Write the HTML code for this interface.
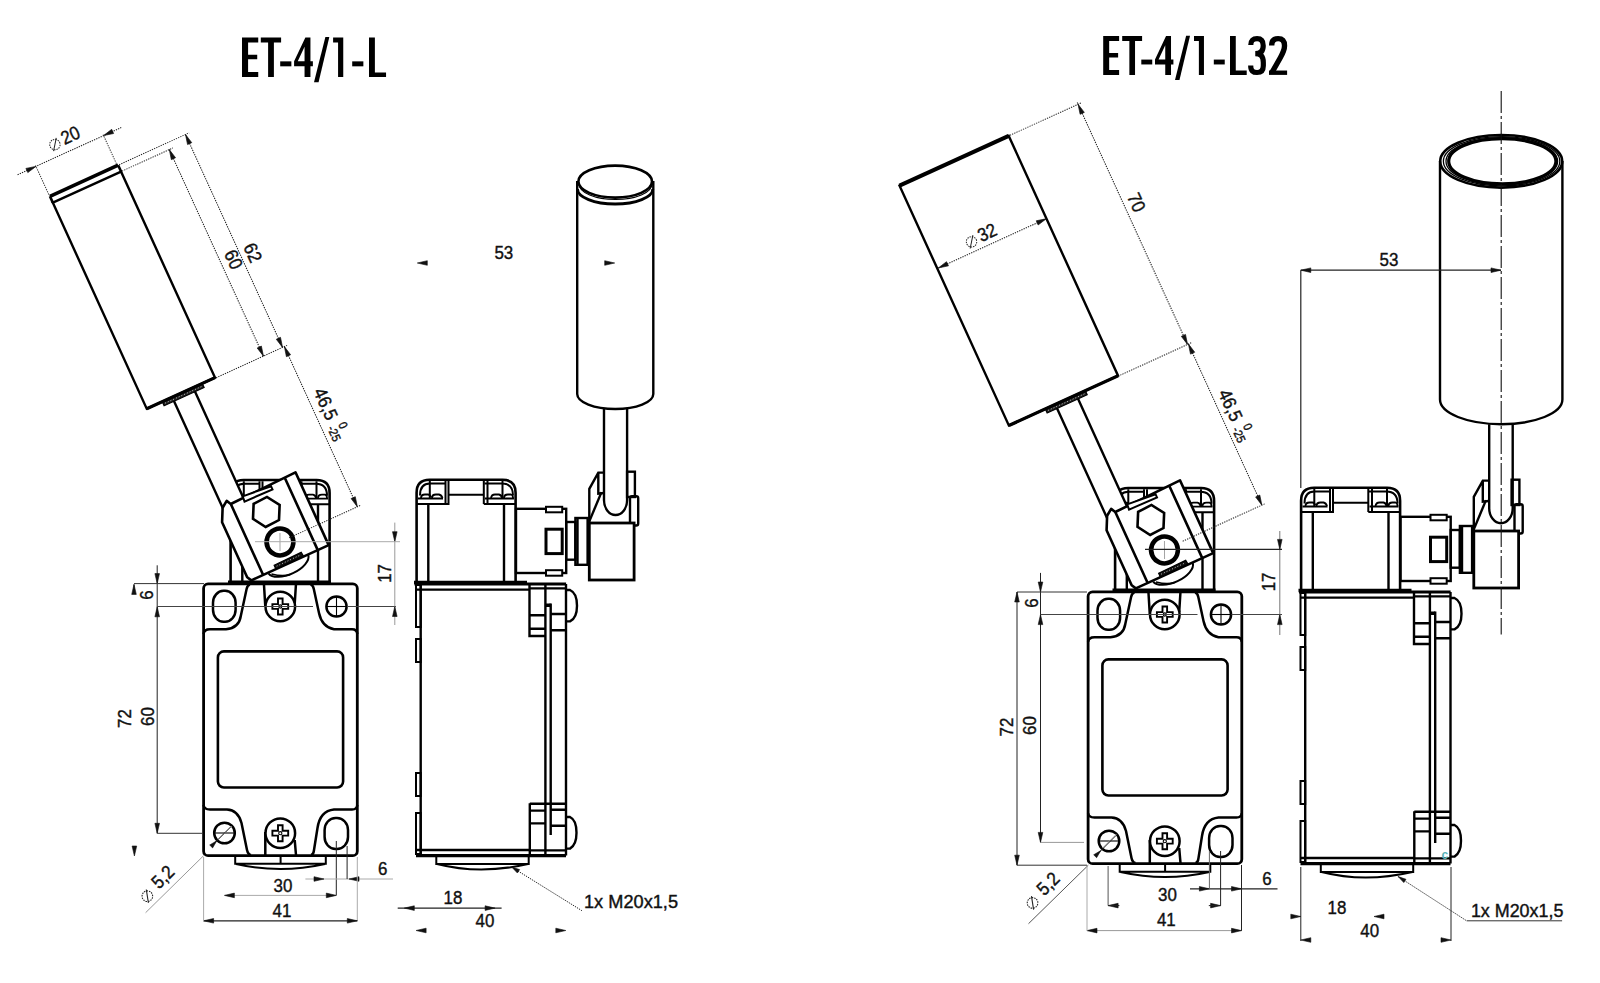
<!DOCTYPE html>
<html><head><meta charset="utf-8"><style>
html,body{margin:0;padding:0;background:#fff;width:1600px;height:983px;overflow:hidden}
svg{display:block}
text{font-family:"Liberation Sans",sans-serif}
</style></head><body>
<svg width="1600" height="983" viewBox="0 0 1600 983" font-family="Liberation Sans, sans-serif">
<rect width="1600" height="983" fill="#fff"/>
<g transform="translate(242.0 37.4) scale(1.015)" fill="#000"><path d="M0 0H16V5H6V17H15V21.5H6V34H16V39H0Z"/></g>
<g transform="translate(260.8 37.4) scale(1.015)" fill="#000"><path d="M0 0H20V5H12.9V39H7.2V5H0Z"/></g>
<g transform="translate(280.2 37.4) scale(1.015)" fill="#000"><path d="M0 23.6H11V28.5H0Z"/></g>
<g transform="translate(294.1 37.4) scale(1.015)" fill="#000"><path fill-rule="evenodd" d="M11.1 0H16.1V23.6H18.5V28.5H16.1V39H10.3V28.5H0V23.6ZM10.3 9.1L3.6 23.6H10.3Z"/></g>
<g transform="translate(314.0 37.4) scale(1.015)" fill="#000"><path d="M11.2 -0.3H15.1L4.5 44.2H0Z"/></g>
<g transform="translate(333.1 37.4) scale(1.015)" fill="#000"><path d="M0 0H10V39H4.9V5H0Z"/></g>
<g transform="translate(352.2 37.4) scale(1.015)" fill="#000"><path d="M0 23.6H11V28.5H0Z"/></g>
<g transform="translate(369.0 37.4) scale(1.015)" fill="#000"><path d="M0 0H5.8V34.6H16.8V39H0Z"/></g>
<g transform="translate(1103.2 36.1) scale(0.995)" fill="#000"><path d="M0 0H16V5H6V17H15V21.5H6V34H16V39H0Z"/></g>
<g transform="translate(1122.2 36.1) scale(0.995)" fill="#000"><path d="M0 0H20V5H12.9V39H7.2V5H0Z"/></g>
<g transform="translate(1141.3 36.1) scale(0.995)" fill="#000"><path d="M0 23.6H11V28.5H0Z"/></g>
<g transform="translate(1155.0 36.1) scale(0.995)" fill="#000"><path fill-rule="evenodd" d="M11.1 0H16.1V23.6H18.5V28.5H16.1V39H10.3V28.5H0V23.6ZM10.3 9.1L3.6 23.6H10.3Z"/></g>
<g transform="translate(1175.0 36.1) scale(0.995)" fill="#000"><path d="M11.2 -0.3H15.1L4.5 44.2H0Z"/></g>
<g transform="translate(1194.0 36.1) scale(0.995)" fill="#000"><path d="M0 0H10V39H4.9V5H0Z"/></g>
<g transform="translate(1213.8 36.1) scale(0.995)" fill="#000"><path d="M0 23.6H11V28.5H0Z"/></g>
<g transform="translate(1230.0 36.1) scale(0.995)" fill="#000"><path d="M0 0H5.8V34.6H16.8V39H0Z"/></g>
<g transform="translate(1248.1 36.1) scale(0.995)" fill="#000"><path d="M2.7 9C2.7 4.2 5 2.6 9 2.6S15.2 4.6 15.2 9.6C15.2 14.8 12.5 17.6 7.2 17.6M7.2 17.6C12.8 17.6 15.3 20.4 15.3 26.5V29.8C15.3 34.8 13 36.6 9 36.6S2.6 35 2.6 29.5" fill="none" stroke="#000" stroke-width="5.2"/></g>
<g transform="translate(1269.0 36.1) scale(0.995)" fill="#000"><path d="M2.7 9.5C2.7 4.5 5 2.6 9.2 2.6S15.6 4.8 15.6 9.8C15.6 14 14.2 16.8 11.5 21.5L3 36.5" fill="none" stroke="#000" stroke-width="5.4"/><path d="M0 34.6H18.2V39H0Z"/></g>
<g id="L">
<g transform="translate(-186 0.2)"><path d="M416.6 583 L416.6 492.8 Q416.6 479.8 429.6 479.8 L502.6 479.8 Q515.6 479.8 515.6 492.8 L515.6 583" fill="#fff" stroke="#000" stroke-width="2.6"/>
<path d="M420 495.5 Q420 483.5 430 483.5 L445.5 483.5 M484.5 483.5 L501.8 483.5 Q513 483.5 513 495.5" fill="none" stroke="#000" stroke-width="2"/>
<path d="M416.6 504.1 L448.5 504.1 L448.5 481 M445.5 481 L445.5 504 M429.8 481 L429.8 498 M483.8 504.1 L515.6 504.1 M483.8 481 L483.8 504.1 M487.5 481 L487.5 504 M502.5 481 L502.5 498 M448.5 494.8 L483.8 494.8" fill="none" stroke="#000" stroke-width="2"/>
<path d="M418 498.5 L443 498.5 M485 498.5 L514 498.5" stroke="#000" stroke-width="1.8"/>
<path d="M421 498 Q421 494.5 425 494.5 L428 494.5 Q430 494.5 430.5 497 M432 498 Q432 494.5 436 494.5 L439 494.5 Q441.5 495 442.5 498 M491 498 Q491.5 494.5 495 494.5 L499 494.5 Q501.5 495 502 498 M504 498 Q504 494.5 508 494.5 L511 494.5 Q513 495 513 498" fill="none" stroke="#000" stroke-width="1.8"/>
<path d="M428.3 504 L428.3 583 M504 504 L504 583" fill="none" stroke="#000" stroke-width="2.4"/></g>
<line x1="228.0" y1="582.3" x2="331.0" y2="582.3" stroke="#000" stroke-width="3.60" />
<rect x="203.6" y="583.8" width="153.7" height="271.9" rx="4.5" fill="#fff" stroke="#000" stroke-width="2.8"/>
<path d="M203.6 634 Q204 629.3 210 629.3 L226 629.3 Q239 628 240.8 616 L246.6 589 Q247.5 585 250 584.5 M264 585 L265.3 606.5 M295.9 585 L294.7 604 M310.5 584.5 Q313 585 313.8 589 L319 613 Q322 627 334 629.3 L352 629.3 Q357 629.3 357.3 634" fill="none" stroke="#000" stroke-width="2.5" stroke-linejoin="round"/>
<path d="M203.6 805 Q204 809.5 210 809.5 L227 809.5 Q238 810 241.5 823 L247 850 Q248 854.5 251 855 M265.3 855 L265.3 832 M296 855 L294.7 840 M311 855 Q313.5 854.5 314 850 L317.5 828 Q320 811 334 809.5 L352 809.5 Q357 809.5 357.3 805" fill="none" stroke="#000" stroke-width="2.5" stroke-linejoin="round"/>
<circle cx="280.3" cy="606.5" r="14.8" fill="#fff" stroke="#000" stroke-width="2.5"/>
<circle cx="280.3" cy="833.2" r="14.8" fill="#fff" stroke="#000" stroke-width="2.5"/>
<rect x="217.9" y="651.4" width="125.2" height="136.1" rx="6" fill="none" stroke="#000" stroke-width="2.6"/>
<rect x="213" y="590.8" width="22.6" height="31" rx="10.5" ry="12" fill="none" stroke="#000" stroke-width="2.5" stroke-linejoin="round"/>
<circle cx="336.5" cy="606.5" r="10.1" fill="none" stroke="#000" stroke-width="2.5" stroke-linejoin="round"/>
<line x1="326.5" y1="606.5" x2="346.5" y2="606.5" stroke="#000" stroke-width="1.10" />
<line x1="336.5" y1="596.4" x2="336.5" y2="616.6" stroke="#000" stroke-width="1.10" />
<circle cx="224.5" cy="833" r="10.3" fill="none" stroke="#000" stroke-width="2.5" stroke-linejoin="round"/>
<line x1="214.5" y1="833.0" x2="234.5" y2="833.0" stroke="#000" stroke-width="1.10" />
<line x1="218.0" y1="840.0" x2="232.0" y2="826.0" stroke="#aaa" stroke-width="0.80" />
<rect x="324.6" y="818" width="23.4" height="31" rx="11" ry="12" fill="none" stroke="#000" stroke-width="2.5" stroke-linejoin="round"/>
<path d="M278.0 598.5 h4.6 v5.6 h5.6 v4.8 h-5.6 v5.6 h-4.6 v-5.6 h-5.6 v-4.8 h5.6 Z" fill="none" stroke="#000" stroke-width="1.9"/>
<circle cx="280.3" cy="606.5" r="1.6" fill="none" stroke="#000" stroke-width="1.1"/>
<path d="M278.0 825.2 h4.6 v5.6 h5.6 v4.8 h-5.6 v5.6 h-4.6 v-5.6 h-5.6 v-4.8 h5.6 Z" fill="none" stroke="#000" stroke-width="1.9"/>
<circle cx="280.3" cy="833.2" r="1.6" fill="none" stroke="#000" stroke-width="1.1"/>
<path d="M235.2 856 L235.2 863.8 L325.8 863.8 L325.8 856 M236 864 Q280.6 874 325 864 M280.6 856 L280.6 863.8" fill="none" stroke="#000" stroke-width="2"/>
<g transform="translate(280 542) rotate(-24.5)">
<path d="M-38.0 -176.5 L-38.0 -52 L-15.0 -56 L-15.0 -176.5 Z" fill="#fff" stroke="none"/>
<path d="M-38.0 -176.5 L-38.0 -53 M-15.0 -176.5 L-15.0 -56" stroke="#000" stroke-width="2.4"/>
<rect x="-66.0" y="-403.0" width="75.0" height="226.5" fill="#fff" stroke="#000" stroke-width="2.4"/>
<rect x="-49.0" y="-176.0" width="44.0" height="4" fill="#222" stroke="#000" stroke-width="1.2"/>
<line x1="-47.0" y1="-174.0" x2="-7.0" y2="-174.0" stroke="#fff" stroke-width="0.8" stroke-dasharray="0.8 2.2"/>
<path d="M-66.0 -176.5 L9.0 -176.5" stroke="#000" stroke-width="3.2"/>
<path d="M-66.0 -410.0 L9.0 -410.0" stroke="#000" stroke-width="3.6"/>
<path d="M-66.0 -410.0 L-66.0 -403.0" stroke="#000" stroke-width="2.6"/>
<path d="M9.0 -410.0 L9.0 -403.0" stroke="#000" stroke-width="2.6"/>
<path d="M20.4 23.5 A22 11 0 0 1 -23.4 24" fill="none" stroke="#000" stroke-width="2"/>
<path d="M-21 25.5 Q-12 33 -4.4 33.6" fill="none" stroke="#000" stroke-width="1.6"/>
<path d="M43 -57 L43 23 L-42 23 L-44.5 18.5 L-44.5 -42 L-38 -55 L-31.5 -59.5 L-29 -55 Z" fill="#fff" stroke="#000" stroke-width="2.6" stroke-linejoin="round"/>
<path d="M-29 -55 L-29 22.5 M31 -56 L31 22.5" stroke="#000" stroke-width="2.6"/>
<polygon points="15.0,-33.8 8.2,-20.4 -6.8,-19.6 -15.0,-32.2 -8.2,-45.6 6.8,-46.4" fill="none" stroke="#000" stroke-width="2.6"/>
<circle cx="0" cy="0" r="13.4" fill="none" stroke="#000" stroke-width="4.6"/>
<path d="M-15 18.8 L15 18.2 L15.5 22.5 L-15 22.8 Z" fill="#111" stroke="#000" stroke-width="1.2"/>
<line x1="-13" y1="20.6" x2="13" y2="20.3" stroke="#fff" stroke-width="0.8" stroke-dasharray="0.8 2.2"/>
<line x1="3.7" y1="-8.2" x2="-3.7" y2="8.2" stroke="#999" stroke-width="0.8"/>
<path d="M-15 -57 L15 -54.5 L15 -51 L-15.5 -51.5 Z" fill="#fff" stroke="#000" stroke-width="2"/>
</g>
<path d="M416.6 583 L416.6 492.8 Q416.6 479.8 429.6 479.8 L502.6 479.8 Q515.6 479.8 515.6 492.8 L515.6 583" fill="#fff" stroke="#000" stroke-width="2.6"/>
<path d="M420 495.5 Q420 483.5 430 483.5 L445.5 483.5 M484.5 483.5 L501.8 483.5 Q513 483.5 513 495.5" fill="none" stroke="#000" stroke-width="2"/>
<path d="M416.6 504.1 L448.5 504.1 L448.5 481 M445.5 481 L445.5 504 M429.8 481 L429.8 498 M483.8 504.1 L515.6 504.1 M483.8 481 L483.8 504.1 M487.5 481 L487.5 504 M502.5 481 L502.5 498 M448.5 494.8 L483.8 494.8" fill="none" stroke="#000" stroke-width="2"/>
<path d="M418 498.5 L443 498.5 M485 498.5 L514 498.5" stroke="#000" stroke-width="1.8"/>
<path d="M421 498 Q421 494.5 425 494.5 L428 494.5 Q430 494.5 430.5 497 M432 498 Q432 494.5 436 494.5 L439 494.5 Q441.5 495 442.5 498 M491 498 Q491.5 494.5 495 494.5 L499 494.5 Q501.5 495 502 498 M504 498 Q504 494.5 508 494.5 L511 494.5 Q513 495 513 498" fill="none" stroke="#000" stroke-width="1.8"/>
<path d="M428.3 504 L428.3 583 M504 504 L504 583" fill="none" stroke="#000" stroke-width="2.4"/>
<line x1="414.0" y1="582.5" x2="527.0" y2="582.5" stroke="#000" stroke-width="3.60" />
<rect x="516" y="508.8" width="50.2" height="64.2" fill="none" stroke="#000" stroke-width="2.4"/>
<rect x="546" y="506.8" width="16.2" height="5.5" fill="#fff" stroke="#000" stroke-width="2"/>
<rect x="546" y="570.2" width="16.2" height="5.5" fill="#fff" stroke="#000" stroke-width="2"/>
<rect x="546" y="529.2" width="16.2" height="24.4" fill="none" stroke="#000" stroke-width="3"/>
<rect x="566.2" y="522" width="9.2" height="37.7" fill="none" stroke="#000" stroke-width="2.4"/>
<rect x="575.4" y="518" width="12.2" height="46.8" fill="none" stroke="#000" stroke-width="2.4"/>
<line x1="577.5" y1="519.0" x2="577.5" y2="564.0" stroke="#000" stroke-width="2.40" />
<rect x="627.1" y="471.7" width="7.8" height="25.3" fill="none" stroke="#000" stroke-width="2.4"/>
<rect x="630" y="496.2" width="8.2" height="29.3" rx="2" fill="none" stroke="#000" stroke-width="2.4"/>
<path d="M589.3 522 L589.3 488.8 L598.3 472.6 L604 472.6 M598.3 472.6 L598.3 493.7 L604 493" fill="none" stroke="#000" stroke-width="2.4"/>
<path d="M589.3 521.4 L601.5 492.1" fill="none" stroke="#000" stroke-width="2.4"/>
<rect x="589.3" y="523" width="44.8" height="57" fill="#fff" stroke="#000" stroke-width="2.8"/>
<path d="M420.7 584 L420.7 855.5" fill="none" stroke="#000" stroke-width="2.4"/>
<line x1="414.5" y1="584.0" x2="566.1" y2="584.0" stroke="#000" stroke-width="2.80" />
<line x1="416.0" y1="589.6" x2="529.5" y2="589.6" stroke="#000" stroke-width="2.40" />
<rect x="416" y="585.0" width="4.7" height="42.0" fill="none" stroke="#000" stroke-width="2"/>
<rect x="416" y="639.0" width="4.7" height="23.0" fill="none" stroke="#000" stroke-width="2"/>
<rect x="416" y="773.0" width="4.7" height="23.0" fill="none" stroke="#000" stroke-width="2"/>
<rect x="416" y="813.0" width="4.7" height="41.0" fill="none" stroke="#000" stroke-width="2"/>
<path d="M529.5 584 L529.5 636 L545.4 636 M529.5 588.4 L566 588.4 M529.5 615.3 L545.4 615.3 M529.5 628.7 L545.4 628.7 M550.7 614 L566 614 M550.7 630.3 L566 630.3" fill="none" stroke="#000" stroke-width="2.4"/>
<path d="M545.4 584 L545.4 855.5 M550.7 603.5 L550.7 835 M566 584 L566 855.5" fill="none" stroke="#000" stroke-width="2.4"/>
<rect x="545.4" y="603.5" width="5.3" height="3.5" fill="#000"/>
<path d="M529.8 803.3 L529.8 855.5 M529.8 803.7 L566 803.7 M529.8 810.6 L545.3 810.6 M529.8 823.4 L545.3 823.4 M550.8 809.7 L566 809.7 M550.8 825.7 L566 825.7 M529.8 850.4 L566 850.4" fill="none" stroke="#000" stroke-width="2.4"/>
<line x1="416.0" y1="850.0" x2="529.8" y2="850.0" stroke="#000" stroke-width="2.40" />
<line x1="416.0" y1="855.6" x2="566.0" y2="855.6" stroke="#000" stroke-width="3.40" />
<path d="M566.1 590 L570 590 Q577 593 577 605.7 Q577 618 570 621.4 L566.1 621.4" fill="none" stroke="#000" stroke-width="2.4"/>
<path d="M566.1 817 L570 817 Q576.5 820 576.5 832.8 Q576.5 845 570 848.6 L566.1 848.6" fill="none" stroke="#000" stroke-width="2.4"/>
<path d="M436.3 856 L436.3 863.9 L528.7 863.9 L528.7 856 M437 864 Q480 875 528 864" fill="none" stroke="#000" stroke-width="2"/>
<path d="M604.0 409.0 L604.0 500.2 A11.5 14.7 0 0 0 627.1 500.2 L627.1 409.0" fill="none" stroke="#000" stroke-width="2.4"/>
<path d="M577.2 181.0 L577.2 394.0 A38.0 15.0 0 0 0 653.3 394.0 L653.3 181.0" fill="#fff" stroke="#000" stroke-width="2.4"/>
<ellipse cx="615.2" cy="181.6" rx="36.8" ry="16" fill="none" stroke="#000" stroke-width="2.6"/>
<path d="M579 184 A36.5 15.5 0 0 0 652 184" fill="none" stroke="#000" stroke-width="1.2"/>
<path d="M577.5 189 A37.6 15 0 0 0 652.8 189" fill="none" stroke="#000" stroke-width="2.8"/>
</g>
<g transform="translate(884.5 8)">
<g transform="translate(-186 0.2)"><path d="M416.6 583 L416.6 492.8 Q416.6 479.8 429.6 479.8 L502.6 479.8 Q515.6 479.8 515.6 492.8 L515.6 583" fill="#fff" stroke="#000" stroke-width="2.6"/>
<path d="M420 495.5 Q420 483.5 430 483.5 L445.5 483.5 M484.5 483.5 L501.8 483.5 Q513 483.5 513 495.5" fill="none" stroke="#000" stroke-width="2"/>
<path d="M416.6 504.1 L448.5 504.1 L448.5 481 M445.5 481 L445.5 504 M429.8 481 L429.8 498 M483.8 504.1 L515.6 504.1 M483.8 481 L483.8 504.1 M487.5 481 L487.5 504 M502.5 481 L502.5 498 M448.5 494.8 L483.8 494.8" fill="none" stroke="#000" stroke-width="2"/>
<path d="M418 498.5 L443 498.5 M485 498.5 L514 498.5" stroke="#000" stroke-width="1.8"/>
<path d="M421 498 Q421 494.5 425 494.5 L428 494.5 Q430 494.5 430.5 497 M432 498 Q432 494.5 436 494.5 L439 494.5 Q441.5 495 442.5 498 M491 498 Q491.5 494.5 495 494.5 L499 494.5 Q501.5 495 502 498 M504 498 Q504 494.5 508 494.5 L511 494.5 Q513 495 513 498" fill="none" stroke="#000" stroke-width="1.8"/>
<path d="M428.3 504 L428.3 583 M504 504 L504 583" fill="none" stroke="#000" stroke-width="2.4"/></g>
<line x1="228.0" y1="582.3" x2="331.0" y2="582.3" stroke="#000" stroke-width="3.60" />
<rect x="203.6" y="583.8" width="153.7" height="271.9" rx="4.5" fill="#fff" stroke="#000" stroke-width="2.8"/>
<path d="M203.6 634 Q204 629.3 210 629.3 L226 629.3 Q239 628 240.8 616 L246.6 589 Q247.5 585 250 584.5 M264 585 L265.3 606.5 M295.9 585 L294.7 604 M310.5 584.5 Q313 585 313.8 589 L319 613 Q322 627 334 629.3 L352 629.3 Q357 629.3 357.3 634" fill="none" stroke="#000" stroke-width="2.5" stroke-linejoin="round"/>
<path d="M203.6 805 Q204 809.5 210 809.5 L227 809.5 Q238 810 241.5 823 L247 850 Q248 854.5 251 855 M265.3 855 L265.3 832 M296 855 L294.7 840 M311 855 Q313.5 854.5 314 850 L317.5 828 Q320 811 334 809.5 L352 809.5 Q357 809.5 357.3 805" fill="none" stroke="#000" stroke-width="2.5" stroke-linejoin="round"/>
<circle cx="280.3" cy="606.5" r="14.8" fill="#fff" stroke="#000" stroke-width="2.5"/>
<circle cx="280.3" cy="833.2" r="14.8" fill="#fff" stroke="#000" stroke-width="2.5"/>
<rect x="217.9" y="651.4" width="125.2" height="136.1" rx="6" fill="none" stroke="#000" stroke-width="2.6"/>
<rect x="213" y="590.8" width="22.6" height="31" rx="10.5" ry="12" fill="none" stroke="#000" stroke-width="2.5" stroke-linejoin="round"/>
<circle cx="336.5" cy="606.5" r="10.1" fill="none" stroke="#000" stroke-width="2.5" stroke-linejoin="round"/>
<line x1="326.5" y1="606.5" x2="346.5" y2="606.5" stroke="#000" stroke-width="1.10" />
<line x1="336.5" y1="596.4" x2="336.5" y2="616.6" stroke="#000" stroke-width="1.10" />
<circle cx="224.5" cy="833" r="10.3" fill="none" stroke="#000" stroke-width="2.5" stroke-linejoin="round"/>
<line x1="214.5" y1="833.0" x2="234.5" y2="833.0" stroke="#000" stroke-width="1.10" />
<line x1="218.0" y1="840.0" x2="232.0" y2="826.0" stroke="#aaa" stroke-width="0.80" />
<rect x="324.6" y="818" width="23.4" height="31" rx="11" ry="12" fill="none" stroke="#000" stroke-width="2.5" stroke-linejoin="round"/>
<path d="M278.0 598.5 h4.6 v5.6 h5.6 v4.8 h-5.6 v5.6 h-4.6 v-5.6 h-5.6 v-4.8 h5.6 Z" fill="none" stroke="#000" stroke-width="1.9"/>
<circle cx="280.3" cy="606.5" r="1.6" fill="none" stroke="#000" stroke-width="1.1"/>
<path d="M278.0 825.2 h4.6 v5.6 h5.6 v4.8 h-5.6 v5.6 h-4.6 v-5.6 h-5.6 v-4.8 h5.6 Z" fill="none" stroke="#000" stroke-width="1.9"/>
<circle cx="280.3" cy="833.2" r="1.6" fill="none" stroke="#000" stroke-width="1.1"/>
<path d="M235.2 856 L235.2 863.8 L325.8 863.8 L325.8 856 M236 864 Q280.6 874 325 864 M280.6 856 L280.6 863.8" fill="none" stroke="#000" stroke-width="2"/>
<g transform="translate(280 542) rotate(-24.5)">
<path d="M-39.0 -177.8 L-39.0 -52 L-16.0 -56 L-16.0 -177.8 Z" fill="#fff" stroke="none"/>
<path d="M-39.0 -177.8 L-39.0 -53 M-16.0 -177.8 L-16.0 -56" stroke="#000" stroke-width="2.4"/>
<rect x="-90.0" y="-441.5" width="120.0" height="263.7" fill="#fff" stroke="#000" stroke-width="2.4"/>
<rect x="-50.0" y="-177.3" width="44.0" height="4" fill="#222" stroke="#000" stroke-width="1.2"/>
<line x1="-48.0" y1="-175.3" x2="-8.0" y2="-175.3" stroke="#fff" stroke-width="0.8" stroke-dasharray="0.8 2.2"/>
<path d="M-90.0 -177.8 L30.0 -177.8" stroke="#000" stroke-width="3.2"/>
<path d="M-90.0 -441.5 L30.0 -441.5" stroke="#000" stroke-width="4"/>
<path d="M20.4 23.5 A22 11 0 0 1 -23.4 24" fill="none" stroke="#000" stroke-width="2"/>
<path d="M-21 25.5 Q-12 33 -4.4 33.6" fill="none" stroke="#000" stroke-width="1.6"/>
<path d="M43 -57 L43 23 L-42 23 L-44.5 18.5 L-44.5 -42 L-38 -55 L-31.5 -59.5 L-29 -55 Z" fill="#fff" stroke="#000" stroke-width="2.6" stroke-linejoin="round"/>
<path d="M-29 -55 L-29 22.5 M31 -56 L31 22.5" stroke="#000" stroke-width="2.6"/>
<polygon points="15.0,-33.8 8.2,-20.4 -6.8,-19.6 -15.0,-32.2 -8.2,-45.6 6.8,-46.4" fill="none" stroke="#000" stroke-width="2.6"/>
<circle cx="0" cy="0" r="13.4" fill="none" stroke="#000" stroke-width="4.6"/>
<path d="M-15 18.8 L15 18.2 L15.5 22.5 L-15 22.8 Z" fill="#111" stroke="#000" stroke-width="1.2"/>
<line x1="-13" y1="20.6" x2="13" y2="20.3" stroke="#fff" stroke-width="0.8" stroke-dasharray="0.8 2.2"/>
<line x1="3.7" y1="-8.2" x2="-3.7" y2="8.2" stroke="#999" stroke-width="0.8"/>
<path d="M-15 -57 L15 -54.5 L15 -51 L-15.5 -51.5 Z" fill="#fff" stroke="#000" stroke-width="2"/>
</g>
<path d="M416.6 583 L416.6 492.8 Q416.6 479.8 429.6 479.8 L502.6 479.8 Q515.6 479.8 515.6 492.8 L515.6 583" fill="#fff" stroke="#000" stroke-width="2.6"/>
<path d="M420 495.5 Q420 483.5 430 483.5 L445.5 483.5 M484.5 483.5 L501.8 483.5 Q513 483.5 513 495.5" fill="none" stroke="#000" stroke-width="2"/>
<path d="M416.6 504.1 L448.5 504.1 L448.5 481 M445.5 481 L445.5 504 M429.8 481 L429.8 498 M483.8 504.1 L515.6 504.1 M483.8 481 L483.8 504.1 M487.5 481 L487.5 504 M502.5 481 L502.5 498 M448.5 494.8 L483.8 494.8" fill="none" stroke="#000" stroke-width="2"/>
<path d="M418 498.5 L443 498.5 M485 498.5 L514 498.5" stroke="#000" stroke-width="1.8"/>
<path d="M421 498 Q421 494.5 425 494.5 L428 494.5 Q430 494.5 430.5 497 M432 498 Q432 494.5 436 494.5 L439 494.5 Q441.5 495 442.5 498 M491 498 Q491.5 494.5 495 494.5 L499 494.5 Q501.5 495 502 498 M504 498 Q504 494.5 508 494.5 L511 494.5 Q513 495 513 498" fill="none" stroke="#000" stroke-width="1.8"/>
<path d="M428.3 504 L428.3 583 M504 504 L504 583" fill="none" stroke="#000" stroke-width="2.4"/>
<line x1="414.0" y1="582.5" x2="527.0" y2="582.5" stroke="#000" stroke-width="3.60" />
<rect x="516" y="508.8" width="50.2" height="64.2" fill="none" stroke="#000" stroke-width="2.4"/>
<rect x="546" y="506.8" width="16.2" height="5.5" fill="#fff" stroke="#000" stroke-width="2"/>
<rect x="546" y="570.2" width="16.2" height="5.5" fill="#fff" stroke="#000" stroke-width="2"/>
<rect x="546" y="529.2" width="16.2" height="24.4" fill="none" stroke="#000" stroke-width="3"/>
<rect x="566.2" y="522" width="9.2" height="37.7" fill="none" stroke="#000" stroke-width="2.4"/>
<rect x="575.4" y="518" width="12.2" height="46.8" fill="none" stroke="#000" stroke-width="2.4"/>
<line x1="577.5" y1="519.0" x2="577.5" y2="564.0" stroke="#000" stroke-width="2.40" />
<rect x="627.1" y="471.7" width="7.8" height="25.3" fill="none" stroke="#000" stroke-width="2.4"/>
<rect x="630" y="496.2" width="8.2" height="29.3" rx="2" fill="none" stroke="#000" stroke-width="2.4"/>
<path d="M589.3 522 L589.3 488.8 L598.3 472.6 L604 472.6 M598.3 472.6 L598.3 493.7 L604 493" fill="none" stroke="#000" stroke-width="2.4"/>
<path d="M589.3 521.4 L601.5 492.1" fill="none" stroke="#000" stroke-width="2.4"/>
<rect x="589.3" y="523" width="44.8" height="57" fill="#fff" stroke="#000" stroke-width="2.8"/>
<path d="M420.7 584 L420.7 855.5" fill="none" stroke="#000" stroke-width="2.4"/>
<line x1="414.5" y1="584.0" x2="566.1" y2="584.0" stroke="#000" stroke-width="2.80" />
<line x1="416.0" y1="589.6" x2="529.5" y2="589.6" stroke="#000" stroke-width="2.40" />
<rect x="416" y="585.0" width="4.7" height="42.0" fill="none" stroke="#000" stroke-width="2"/>
<rect x="416" y="639.0" width="4.7" height="23.0" fill="none" stroke="#000" stroke-width="2"/>
<rect x="416" y="773.0" width="4.7" height="23.0" fill="none" stroke="#000" stroke-width="2"/>
<rect x="416" y="813.0" width="4.7" height="41.0" fill="none" stroke="#000" stroke-width="2"/>
<path d="M529.5 584 L529.5 636 L545.4 636 M529.5 588.4 L566 588.4 M529.5 615.3 L545.4 615.3 M529.5 628.7 L545.4 628.7 M550.7 614 L566 614 M550.7 630.3 L566 630.3" fill="none" stroke="#000" stroke-width="2.4"/>
<path d="M545.4 584 L545.4 855.5 M550.7 603.5 L550.7 835 M566 584 L566 855.5" fill="none" stroke="#000" stroke-width="2.4"/>
<rect x="545.4" y="603.5" width="5.3" height="3.5" fill="#000"/>
<path d="M529.8 803.3 L529.8 855.5 M529.8 803.7 L566 803.7 M529.8 810.6 L545.3 810.6 M529.8 823.4 L545.3 823.4 M550.8 809.7 L566 809.7 M550.8 825.7 L566 825.7 M529.8 850.4 L566 850.4" fill="none" stroke="#000" stroke-width="2.4"/>
<line x1="416.0" y1="850.0" x2="529.8" y2="850.0" stroke="#000" stroke-width="2.40" />
<line x1="416.0" y1="855.6" x2="566.0" y2="855.6" stroke="#000" stroke-width="3.40" />
<path d="M566.1 590 L570 590 Q577 593 577 605.7 Q577 618 570 621.4 L566.1 621.4" fill="none" stroke="#000" stroke-width="2.4"/>
<path d="M566.1 817 L570 817 Q576.5 820 576.5 832.8 Q576.5 845 570 848.6 L566.1 848.6" fill="none" stroke="#000" stroke-width="2.4"/>
<path d="M436.3 856 L436.3 863.9 L528.7 863.9 L528.7 856 M437 864 Q480 875 528 864" fill="none" stroke="#000" stroke-width="2"/>
</g>
<path d="M1489.2 424.2 L1489.2 508.2 A11.5 14.7 0 0 0 1512.7 508.2 L1512.7 424.2" fill="none" stroke="#000" stroke-width="2.4"/>
<path d="M1440.0 161.0 L1440.0 399.6 A61.2 24.6 0 0 0 1562.4 399.6 L1562.4 161.0" fill="#fff" stroke="#000" stroke-width="2.4"/>
<ellipse cx="1501.2" cy="161.3" rx="61" ry="26.3" fill="none" stroke="#000" stroke-width="2.6"/>
<ellipse cx="1501.6" cy="161.3" rx="58.2" ry="24.6" fill="none" stroke="#000" stroke-width="1.3"/>
<ellipse cx="1501.8" cy="161.3" rx="55.8" ry="23.6" fill="none" stroke="#000" stroke-width="1.3"/>
<ellipse cx="1502.3" cy="161.3" rx="53.6" ry="22.6" fill="none" stroke="#000" stroke-width="3.2"/>
<line x1="157.2" y1="565.3" x2="157.2" y2="833.3" stroke="#222" stroke-width="1.00" />
<path d="M157.2 583.6 L154.9 573.6 L159.5 573.6 Z" fill="#111" stroke="#111" stroke-width="0.6" stroke-linejoin="round"/>
<path d="M157.2 606.8 L159.5 616.8 L154.9 616.8 Z" fill="#111" stroke="#111" stroke-width="0.6" stroke-linejoin="round"/>
<path d="M157.2 833.3 L154.9 823.3 L159.5 823.3 Z" fill="#111" stroke="#111" stroke-width="0.6" stroke-linejoin="round"/>
<line x1="134.0" y1="583.6" x2="204.0" y2="583.6" stroke="#333" stroke-width="1.00" />
<line x1="157.2" y1="606.5" x2="313.0" y2="606.5" stroke="#444" stroke-width="1.00" />
<line x1="347.0" y1="606.5" x2="396.0" y2="606.5" stroke="#444" stroke-width="1.00" />
<line x1="157.2" y1="833.3" x2="203.0" y2="833.3" stroke="#333" stroke-width="1.00" />
<line x1="134.0" y1="584.5" x2="134.0" y2="588.0" stroke="#222" stroke-width="1.00" />
<path d="M134.0 584.4 L136.3 594.4 L131.7 594.4 Z" fill="#111" stroke="#111" stroke-width="0.6" stroke-linejoin="round"/>
<path d="M134.4 856.0 L132.1 846.0 L136.7 846.0 Z" fill="#111" stroke="#111" stroke-width="0.6" stroke-linejoin="round"/>
<g transform="translate(146.6 595.0) rotate(-90.0) scale(0.900 1)"><text x="0" y="0" font-size="18.8" text-anchor="middle" dominant-baseline="central" fill="#111" stroke="#111" stroke-width="0.4" >6</text></g>
<g transform="translate(124.2 718.6) rotate(-90.0) scale(0.900 1)"><text x="0" y="0" font-size="18.8" text-anchor="middle" dominant-baseline="central" fill="#111" stroke="#111" stroke-width="0.4" >72</text></g>
<g transform="translate(147.7 716.5) rotate(-90.0) scale(0.900 1)"><text x="0" y="0" font-size="18.8" text-anchor="middle" dominant-baseline="central" fill="#111" stroke="#111" stroke-width="0.4" >60</text></g>
<line x1="394.8" y1="522.6" x2="394.8" y2="625.0" stroke="#999" stroke-width="1.00" />
<path d="M394.8 541.7 L392.5 531.7 L397.1 531.7 Z" fill="#111" stroke="#111" stroke-width="0.6" stroke-linejoin="round"/>
<path d="M394.8 606.5 L397.1 616.5 L392.5 616.5 Z" fill="#111" stroke="#111" stroke-width="0.6" stroke-linejoin="round"/>
<line x1="255.0" y1="541.7" x2="400.0" y2="541.7" stroke="#aaa" stroke-width="1.00" />
<g transform="translate(384.3 573.4) rotate(-90.0) scale(0.900 1)"><text x="0" y="0" font-size="18.8" text-anchor="middle" dominant-baseline="central" fill="#111" stroke="#111" stroke-width="0.4" >17</text></g>
<line x1="145.6" y1="912.7" x2="203.6" y2="855.7" stroke="#999" stroke-width="1.00" />
<line x1="212.0" y1="845.5" x2="231.0" y2="826.5" stroke="#222" stroke-width="1.00" />
<path d="M216.8 840.8 L212.6 847.9 L209.7 845.0 Z" fill="#111" stroke="#111" stroke-width="0.6" stroke-linejoin="round"/>
<g transform="translate(158.8 884.2) rotate(-45)"><g transform="translate(8.0 -2.2) rotate(0.0) scale(0.900 1)"><text x="0" y="0" font-size="18.8" text-anchor="middle" dominant-baseline="central" fill="#111" stroke="#111" stroke-width="0.4" >5,2</text></g><circle cx="-16.6" cy="0.4" r="5.3" fill="none" stroke="#222" stroke-width="1.1" stroke-dasharray="1.5 1"/><line x1="-20.6" y1="5.9" x2="-12.6" y2="-5.1" stroke="#222" stroke-width="1.1"/></g>
<line x1="225.0" y1="895.4" x2="335.9" y2="895.4" stroke="#aaa" stroke-width="1.00" />
<path d="M224.4 895.4 L234.4 893.1 L234.4 897.7 Z" fill="#111" stroke="#111" stroke-width="0.6" stroke-linejoin="round"/>
<path d="M336.3 895.4 L326.3 897.7 L326.3 893.1 Z" fill="#111" stroke="#111" stroke-width="0.6" stroke-linejoin="round"/>
<line x1="336.3" y1="841.0" x2="336.3" y2="895.4" stroke="#222" stroke-width="1.00" />
<g transform="translate(283.0 885.2) rotate(0.0) scale(0.900 1)"><text x="0" y="0" font-size="18.8" text-anchor="middle" dominant-baseline="central" fill="#111" stroke="#111" stroke-width="0.4" >30</text></g>
<line x1="305.4" y1="879.0" x2="393.0" y2="879.0" stroke="#aaa" stroke-width="1.00" />
<path d="M324.0 879.0 L314.0 881.3 L314.0 876.7 Z" fill="#111" stroke="#111" stroke-width="0.6" stroke-linejoin="round"/>
<path d="M349.0 879.0 L359.0 876.7 L359.0 881.3 Z" fill="#111" stroke="#111" stroke-width="0.6" stroke-linejoin="round"/>
<line x1="347.1" y1="846.0" x2="347.1" y2="879.0" stroke="#222" stroke-width="1.00" />
<line x1="357.3" y1="857.0" x2="357.3" y2="921.0" stroke="#aaa" stroke-width="1.00" />
<g transform="translate(382.7 868.9) rotate(0.0) scale(0.900 1)"><text x="0" y="0" font-size="18.8" text-anchor="middle" dominant-baseline="central" fill="#111" stroke="#111" stroke-width="0.4" >6</text></g>
<line x1="203.6" y1="920.8" x2="357.3" y2="920.8" stroke="#222" stroke-width="1.20" />
<path d="M203.6 920.8 L213.6 918.5 L213.6 923.1 Z" fill="#111" stroke="#111" stroke-width="0.6" stroke-linejoin="round"/>
<path d="M357.3 920.8 L347.3 923.1 L347.3 918.5 Z" fill="#111" stroke="#111" stroke-width="0.6" stroke-linejoin="round"/>
<line x1="203.6" y1="857.0" x2="203.6" y2="921.0" stroke="#aaa" stroke-width="1.00" />
<g transform="translate(282.0 910.6) rotate(0.0) scale(0.900 1)"><text x="0" y="0" font-size="18.8" text-anchor="middle" dominant-baseline="central" fill="#111" stroke="#111" stroke-width="0.4" >41</text></g>
<line x1="397.7" y1="908.1" x2="501.6" y2="908.1" stroke="#222" stroke-width="1.20" />
<path d="M404.3 908.1 L414.3 905.8 L414.3 910.4 Z" fill="#111" stroke="#111" stroke-width="0.6" stroke-linejoin="round"/>
<path d="M495.1 908.1 L485.1 910.4 L485.1 905.8 Z" fill="#111" stroke="#111" stroke-width="0.6" stroke-linejoin="round"/>
<g transform="translate(453.0 897.8) rotate(0.0) scale(0.900 1)"><text x="0" y="0" font-size="18.8" text-anchor="middle" dominant-baseline="central" fill="#111" stroke="#111" stroke-width="0.4" >18</text></g>
<g transform="translate(485.0 920.4) rotate(0.0) scale(0.900 1)"><text x="0" y="0" font-size="18.8" text-anchor="middle" dominant-baseline="central" fill="#111" stroke="#111" stroke-width="0.4" >40</text></g>
<path d="M416.1 930.5 L426.1 928.2 L426.1 932.8 Z" fill="#111" stroke="#111" stroke-width="0.6" stroke-linejoin="round"/>
<path d="M565.8 930.5 L555.8 932.8 L555.8 928.2 Z" fill="#111" stroke="#111" stroke-width="0.6" stroke-linejoin="round"/>
<line x1="511.7" y1="867.1" x2="581.9" y2="910.7" stroke="#222" stroke-width="1.00" stroke-dasharray="1.3 1.1"/>
<path d="M511.7 867.1 L519.6 869.6 L517.4 873.0 Z" fill="#111" stroke="#111" stroke-width="0.6" stroke-linejoin="round"/>
<text x="584" y="907.5" font-size="18.8" fill="#111" stroke="#111" stroke-width="0.4" textLength="94" lengthAdjust="spacingAndGlyphs">1x M20x1,5</text>
<path d="M417.3 263.0 L427.3 260.7 L427.3 265.3 Z" fill="#111" stroke="#111" stroke-width="0.6" stroke-linejoin="round"/>
<path d="M614.7 263.0 L604.7 265.3 L604.7 260.7 Z" fill="#111" stroke="#111" stroke-width="0.6" stroke-linejoin="round"/>
<g transform="translate(503.8 252.8) rotate(0.0) scale(0.900 1)"><text x="0" y="0" font-size="18.8" text-anchor="middle" dominant-baseline="central" fill="#111" stroke="#111" stroke-width="0.4" >53</text></g>
<g transform="translate(280 542) rotate(-24.5)">
<line x1="-86.5" y1="-443.0" x2="27.4" y2="-443.0" stroke="#222" stroke-width="1.10" stroke-dasharray="1.3 1.1"/>
<path d="M-66.3 -443.0 L-76.3 -440.7 L-76.3 -445.3 Z" fill="#111" stroke="#111" stroke-width="0.6" stroke-linejoin="round"/>
<path d="M8.0 -443.0 L18.0 -445.3 L18.0 -440.7 Z" fill="#111" stroke="#111" stroke-width="0.6" stroke-linejoin="round"/>
<line x1="-66.3" y1="-412.0" x2="-66.3" y2="-444.0" stroke="#333" stroke-width="1.00" stroke-dasharray="1.3 1.1"/>
<line x1="8.0" y1="-412.0" x2="8.0" y2="-444.0" stroke="#333" stroke-width="1.00" stroke-dasharray="1.3 1.1"/>
<g transform="translate(-22.0 -457.0) rotate(0.0) scale(0.900 1)"><text x="0" y="0" font-size="18.8" text-anchor="middle" dominant-baseline="central" fill="#111" stroke="#111" stroke-width="0.4" >20</text></g>
<circle cx="-40" cy="-455" r="5.2" fill="none" stroke="#222" stroke-width="1" stroke-dasharray="1.4 1"/><line x1="-44" y1="-449.5" x2="-36" y2="-460.5" stroke="#222" stroke-width="1"/>
<line x1="62.0" y1="-403.0" x2="62.0" y2="-176.0" stroke="#222" stroke-width="1.10" stroke-dasharray="1.3 1.1"/>
<path d="M62.0 -403.0 L64.3 -393.0 L59.7 -393.0 Z" fill="#111" stroke="#111" stroke-width="0.6" stroke-linejoin="round"/>
<path d="M62.0 -176.0 L59.7 -186.0 L64.3 -186.0 Z" fill="#111" stroke="#111" stroke-width="0.6" stroke-linejoin="round"/>
<line x1="83.0" y1="-410.0" x2="83.0" y2="-176.0" stroke="#222" stroke-width="1.10" stroke-dasharray="1.3 1.1"/>
<path d="M83.0 -410.0 L85.3 -400.0 L80.7 -400.0 Z" fill="#111" stroke="#111" stroke-width="0.6" stroke-linejoin="round"/>
<path d="M83.0 -176.0 L80.7 -186.0 L85.3 -186.0 Z" fill="#111" stroke="#111" stroke-width="0.6" stroke-linejoin="round"/>
<line x1="10.0" y1="-403.0" x2="66.0" y2="-403.0" stroke="#222" stroke-width="1.00" stroke-dasharray="1.3 1.1"/>
<line x1="10.0" y1="-410.0" x2="87.0" y2="-410.0" stroke="#222" stroke-width="1.00" stroke-dasharray="1.3 1.1"/>
<line x1="10.0" y1="-176.0" x2="88.0" y2="-176.0" stroke="#222" stroke-width="1.00" stroke-dasharray="1.3 1.1"/>
<line x1="85.0" y1="-176.0" x2="85.0" y2="0.0" stroke="#222" stroke-width="1.10" stroke-dasharray="1.3 1.1"/>
<path d="M85.0 -176.0 L87.3 -166.0 L82.7 -166.0 Z" fill="#111" stroke="#111" stroke-width="0.6" stroke-linejoin="round"/>
<path d="M85.0 0.0 L82.7 -10.0 L87.3 -10.0 Z" fill="#111" stroke="#111" stroke-width="0.6" stroke-linejoin="round"/>
<line x1="10.0" y1="0.0" x2="89.0" y2="0.0" stroke="#222" stroke-width="1.00" stroke-dasharray="1.3 1.1"/>
<g transform="translate(95.1 -274.5) rotate(90.0) scale(0.900 1)"><text x="0" y="0" font-size="18.8" text-anchor="middle" dominant-baseline="central" fill="#111" stroke="#111" stroke-width="0.4" >62</text></g>
<g transform="translate(74.8 -276.3) rotate(90.0) scale(0.900 1)"><text x="0" y="0" font-size="18.8" text-anchor="middle" dominant-baseline="central" fill="#111" stroke="#111" stroke-width="0.4" >60</text></g>
<g transform="translate(98.7 -106.7) rotate(90.0) scale(0.900 1)"><text x="0" y="0" font-size="18.8" text-anchor="middle" dominant-baseline="central" fill="#111" stroke="#111" stroke-width="0.4" >46,5</text></g>
<g transform="translate(106.3 -80.0) rotate(90.0) scale(0.900 1)"><text x="0" y="0" font-size="12.2" text-anchor="middle" dominant-baseline="central" fill="#111" stroke="#111" stroke-width="0.4" >0</text></g>
<g transform="translate(94.8 -76.3) rotate(90.0) scale(0.900 1)"><text x="0" y="0" font-size="12.2" text-anchor="middle" dominant-baseline="central" fill="#111" stroke="#111" stroke-width="0.4" >-25</text></g>
</g>
<line x1="1040.5" y1="572.9" x2="1040.5" y2="842.4" stroke="#222" stroke-width="1.00" />
<path d="M1040.5 592.0 L1038.2 582.0 L1042.8 582.0 Z" fill="#111" stroke="#111" stroke-width="0.6" stroke-linejoin="round"/>
<path d="M1040.5 614.6 L1042.8 624.6 L1038.2 624.6 Z" fill="#111" stroke="#111" stroke-width="0.6" stroke-linejoin="round"/>
<path d="M1040.5 842.4 L1038.2 832.4 L1042.8 832.4 Z" fill="#111" stroke="#111" stroke-width="0.6" stroke-linejoin="round"/>
<line x1="1017.0" y1="592.0" x2="1087.0" y2="592.0" stroke="#333" stroke-width="1.00" />
<line x1="1040.5" y1="614.5" x2="1197.5" y2="614.5" stroke="#444" stroke-width="1.00" />
<line x1="1231.5" y1="614.5" x2="1282.0" y2="614.5" stroke="#444" stroke-width="1.00" />
<line x1="1040.5" y1="842.4" x2="1084.0" y2="842.4" stroke="#999" stroke-width="1.00" />
<line x1="1017.0" y1="592.0" x2="1017.0" y2="865.2" stroke="#222" stroke-width="1.00" />
<path d="M1017.0 592.0 L1019.3 602.0 L1014.7 602.0 Z" fill="#111" stroke="#111" stroke-width="0.6" stroke-linejoin="round"/>
<path d="M1017.0 865.2 L1014.7 855.2 L1019.3 855.2 Z" fill="#111" stroke="#111" stroke-width="0.6" stroke-linejoin="round"/>
<line x1="1017.0" y1="865.2" x2="1087.0" y2="865.2" stroke="#333" stroke-width="1.00" />
<g transform="translate(1031.4 603.1) rotate(-90.0) scale(0.900 1)"><text x="0" y="0" font-size="18.8" text-anchor="middle" dominant-baseline="central" fill="#111" stroke="#111" stroke-width="0.4" >6</text></g>
<g transform="translate(1007.1 727.0) rotate(-90.0) scale(0.900 1)"><text x="0" y="0" font-size="18.8" text-anchor="middle" dominant-baseline="central" fill="#111" stroke="#111" stroke-width="0.4" >72</text></g>
<g transform="translate(1029.9 725.6) rotate(-90.0) scale(0.900 1)"><text x="0" y="0" font-size="18.8" text-anchor="middle" dominant-baseline="central" fill="#111" stroke="#111" stroke-width="0.4" >60</text></g>
<line x1="1279.8" y1="531.0" x2="1279.8" y2="635.0" stroke="#777" stroke-width="1.00" />
<path d="M1279.8 549.4 L1277.5 539.4 L1282.1 539.4 Z" fill="#111" stroke="#111" stroke-width="0.6" stroke-linejoin="round"/>
<path d="M1279.8 614.6 L1282.1 624.6 L1277.5 624.6 Z" fill="#111" stroke="#111" stroke-width="0.6" stroke-linejoin="round"/>
<line x1="1145.0" y1="549.4" x2="1282.0" y2="549.4" stroke="#222" stroke-width="1.20" />
<g transform="translate(1268.6 581.9) rotate(-90.0) scale(0.900 1)"><text x="0" y="0" font-size="18.8" text-anchor="middle" dominant-baseline="central" fill="#111" stroke="#111" stroke-width="0.4" >17</text></g>
<line x1="1028.5" y1="923.7" x2="1088.3" y2="865.2" stroke="#555" stroke-width="1.00" />
<line x1="1096.0" y1="855.5" x2="1116.0" y2="835.5" stroke="#222" stroke-width="1.00" />
<path d="M1100.8 850.6 L1096.6 857.7 L1093.7 854.8 Z" fill="#111" stroke="#111" stroke-width="0.6" stroke-linejoin="round"/>
<g transform="translate(1044 890.9) rotate(-45)"><g transform="translate(8.0 -2.2) rotate(0.0) scale(0.900 1)"><text x="0" y="0" font-size="18.8" text-anchor="middle" dominant-baseline="central" fill="#111" stroke="#111" stroke-width="0.4" >5,2</text></g><circle cx="-16.6" cy="0.4" r="5.3" fill="none" stroke="#222" stroke-width="1.1" stroke-dasharray="1.5 1"/><line x1="-20.6" y1="5.9" x2="-12.6" y2="-5.1" stroke="#222" stroke-width="1.1"/></g>
<line x1="1108.1" y1="866.0" x2="1108.1" y2="905.6" stroke="#555" stroke-width="1.00" />
<line x1="1220.6" y1="851.0" x2="1220.6" y2="905.6" stroke="#222" stroke-width="1.00" />
<path d="M1108.1 905.6 L1118.1 903.3 L1118.1 907.9 Z" fill="#111" stroke="#111" stroke-width="0.6" stroke-linejoin="round"/>
<path d="M1220.6 905.6 L1210.6 907.9 L1210.6 903.3 Z" fill="#111" stroke="#111" stroke-width="0.6" stroke-linejoin="round"/>
<line x1="1108.1" y1="905.6" x2="1119.4" y2="905.6" stroke="#222" stroke-width="1.00" />
<line x1="1208.8" y1="905.6" x2="1220.6" y2="905.6" stroke="#222" stroke-width="1.00" />
<g transform="translate(1167.5 895.0) rotate(0.0) scale(0.900 1)"><text x="0" y="0" font-size="18.8" text-anchor="middle" dominant-baseline="central" fill="#111" stroke="#111" stroke-width="0.4" >30</text></g>
<line x1="1190.0" y1="888.8" x2="1277.5" y2="888.8" stroke="#222" stroke-width="1.20" />
<path d="M1209.4 888.8 L1199.4 891.1 L1199.4 886.5 Z" fill="#111" stroke="#111" stroke-width="0.6" stroke-linejoin="round"/>
<path d="M1241.5 888.8 L1231.5 891.1 L1231.5 886.5 Z" fill="#111" stroke="#111" stroke-width="0.6" stroke-linejoin="round"/>
<line x1="1209.4" y1="851.0" x2="1209.4" y2="888.8" stroke="#666" stroke-width="1.00" />
<line x1="1241.5" y1="865.0" x2="1241.5" y2="931.0" stroke="#222" stroke-width="1.00" />
<g transform="translate(1266.9 878.8) rotate(0.0) scale(0.900 1)"><text x="0" y="0" font-size="18.8" text-anchor="middle" dominant-baseline="central" fill="#111" stroke="#111" stroke-width="0.4" >6</text></g>
<line x1="1087.0" y1="930.6" x2="1241.5" y2="930.6" stroke="#999" stroke-width="1.00" />
<path d="M1087.0 930.6 L1097.0 928.3 L1097.0 932.9 Z" fill="#111" stroke="#111" stroke-width="0.6" stroke-linejoin="round"/>
<path d="M1241.5 930.6 L1231.5 932.9 L1231.5 928.3 Z" fill="#111" stroke="#111" stroke-width="0.6" stroke-linejoin="round"/>
<line x1="1087.0" y1="866.0" x2="1087.0" y2="931.0" stroke="#aaa" stroke-width="1.00" />
<g transform="translate(1166.3 920.0) rotate(0.0) scale(0.900 1)"><text x="0" y="0" font-size="18.8" text-anchor="middle" dominant-baseline="central" fill="#111" stroke="#111" stroke-width="0.4" >41</text></g>
<line x1="1300.8" y1="270.2" x2="1300.8" y2="488.0" stroke="#222" stroke-width="1.20" />
<line x1="1300.8" y1="270.2" x2="1501.0" y2="270.2" stroke="#222" stroke-width="1.20" />
<path d="M1300.8 270.2 L1310.8 267.9 L1310.8 272.5 Z" fill="#111" stroke="#111" stroke-width="0.6" stroke-linejoin="round"/>
<path d="M1501.0 270.2 L1491.0 272.5 L1491.0 267.9 Z" fill="#111" stroke="#111" stroke-width="0.6" stroke-linejoin="round"/>
<g transform="translate(1389.0 260.1) rotate(0.0) scale(0.900 1)"><text x="0" y="0" font-size="18.8" text-anchor="middle" dominant-baseline="central" fill="#111" stroke="#111" stroke-width="0.4" >53</text></g>
<line x1="1501.2" y1="91.0" x2="1501.2" y2="634.5" stroke="#111" stroke-width="1.10" stroke-dasharray="22 3 3 3"/>
<line x1="1300.8" y1="867.0" x2="1300.8" y2="941.0" stroke="#222" stroke-width="1.00" />
<line x1="1451.0" y1="867.0" x2="1451.0" y2="941.0" stroke="#222" stroke-width="1.00" />
<path d="M1300.8 916.5 L1290.8 918.8 L1290.8 914.2 Z" fill="#111" stroke="#111" stroke-width="0.6" stroke-linejoin="round"/>
<path d="M1374.0 916.5 L1384.0 914.2 L1384.0 918.8 Z" fill="#111" stroke="#111" stroke-width="0.6" stroke-linejoin="round"/>
<path d="M1300.8 940.0 L1310.8 937.7 L1310.8 942.3 Z" fill="#111" stroke="#111" stroke-width="0.6" stroke-linejoin="round"/>
<path d="M1451.0 940.0 L1441.0 942.3 L1441.0 937.7 Z" fill="#111" stroke="#111" stroke-width="0.6" stroke-linejoin="round"/>
<line x1="1296.0" y1="916.5" x2="1301.0" y2="916.5" stroke="#222" stroke-width="1.00" />
<g transform="translate(1337.0 908.0) rotate(0.0) scale(0.900 1)"><text x="0" y="0" font-size="18.8" text-anchor="middle" dominant-baseline="central" fill="#111" stroke="#111" stroke-width="0.4" >18</text></g>
<g transform="translate(1369.7 930.8) rotate(0.0) scale(0.900 1)"><text x="0" y="0" font-size="18.8" text-anchor="middle" dominant-baseline="central" fill="#111" stroke="#111" stroke-width="0.4" >40</text></g>
<line x1="1398.2" y1="876.6" x2="1466.6" y2="920.8" stroke="#222" stroke-width="1.00" stroke-dasharray="1.3 1.1"/>
<path d="M1398.2 876.6 L1406.0 879.3 L1403.8 882.6 Z" fill="#111" stroke="#111" stroke-width="0.6" stroke-linejoin="round"/>
<line x1="1466.6" y1="920.8" x2="1562.1" y2="920.8" stroke="#333" stroke-width="1.00" />
<text x="1470.9" y="916.5" font-size="18.8" fill="#111" stroke="#111" stroke-width="0.4" textLength="92.5" lengthAdjust="spacingAndGlyphs">1x M20x1,5</text>
<g transform="translate(1164.5 549.5) rotate(-24.5)">
<line x1="-89.0" y1="-350.0" x2="29.6" y2="-350.0" stroke="#222" stroke-width="1.10" stroke-dasharray="1.3 1.1"/>
<path d="M-89.0 -350.0 L-79.0 -352.3 L-79.0 -347.7 Z" fill="#111" stroke="#111" stroke-width="0.6" stroke-linejoin="round"/>
<path d="M29.6 -350.0 L19.6 -347.7 L19.6 -352.3 Z" fill="#111" stroke="#111" stroke-width="0.6" stroke-linejoin="round"/>
<g transform="translate(-30.0 -362.0) rotate(0.0) scale(0.900 1)"><text x="0" y="0" font-size="18.8" text-anchor="middle" dominant-baseline="central" fill="#111" stroke="#111" stroke-width="0.4" >32</text></g>
<circle cx="-48" cy="-360" r="5.2" fill="none" stroke="#222" stroke-width="1" stroke-dasharray="1.4 1"/><line x1="-52" y1="-354.5" x2="-44" y2="-365.5" stroke="#222" stroke-width="1"/>
<line x1="106.0" y1="-443.0" x2="106.0" y2="-177.0" stroke="#222" stroke-width="1.10" stroke-dasharray="1.3 1.1"/>
<path d="M106.0 -441.0 L108.3 -431.0 L103.7 -431.0 Z" fill="#111" stroke="#111" stroke-width="0.6" stroke-linejoin="round"/>
<path d="M106.0 -177.0 L103.7 -187.0 L108.3 -187.0 Z" fill="#111" stroke="#111" stroke-width="0.6" stroke-linejoin="round"/>
<line x1="31.0" y1="-441.0" x2="110.0" y2="-441.0" stroke="#222" stroke-width="1.00" stroke-dasharray="1.3 1.1"/>
<line x1="32.0" y1="-177.0" x2="110.0" y2="-177.0" stroke="#222" stroke-width="1.00" stroke-dasharray="1.3 1.1"/>
<line x1="107.0" y1="-177.0" x2="107.0" y2="0.0" stroke="#222" stroke-width="1.10" stroke-dasharray="1.3 1.1"/>
<path d="M107.0 -177.0 L109.3 -167.0 L104.7 -167.0 Z" fill="#111" stroke="#111" stroke-width="0.6" stroke-linejoin="round"/>
<path d="M107.0 0.0 L104.7 -10.0 L109.3 -10.0 Z" fill="#111" stroke="#111" stroke-width="0.6" stroke-linejoin="round"/>
<line x1="20.0" y1="0.0" x2="111.0" y2="0.0" stroke="#222" stroke-width="1.00" stroke-dasharray="1.3 1.1"/>
<g transform="translate(118.3 -327.6) rotate(90.0) scale(0.900 1)"><text x="0" y="0" font-size="18.8" text-anchor="middle" dominant-baseline="central" fill="#111" stroke="#111" stroke-width="0.4" >70</text></g>
<g transform="translate(119.7 -103.9) rotate(90.0) scale(0.900 1)"><text x="0" y="0" font-size="18.8" text-anchor="middle" dominant-baseline="central" fill="#111" stroke="#111" stroke-width="0.4" >46,5</text></g>
<g transform="translate(127.3 -77.2) rotate(90.0) scale(0.900 1)"><text x="0" y="0" font-size="12.2" text-anchor="middle" dominant-baseline="central" fill="#111" stroke="#111" stroke-width="0.4" >0</text></g>
<g transform="translate(115.8 -73.5) rotate(90.0) scale(0.900 1)"><text x="0" y="0" font-size="12.2" text-anchor="middle" dominant-baseline="central" fill="#111" stroke="#111" stroke-width="0.4" >-25</text></g>
</g>
<text x="1441.5" y="858.8" font-size="12" font-weight="bold" fill="#5ab4b8">c</text>
</svg>
</body></html>
